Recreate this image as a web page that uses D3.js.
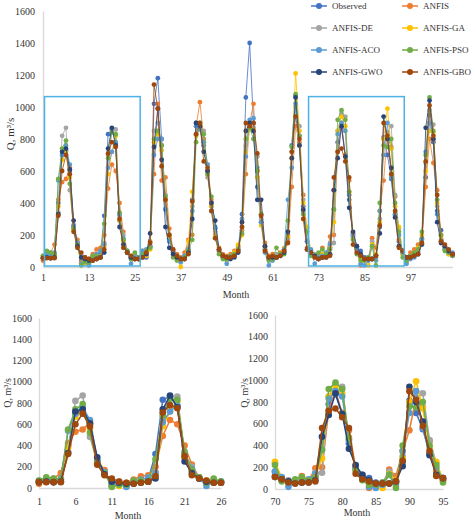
<!DOCTYPE html>
<html>
<head>
<meta charset="utf-8">
<script src="https://cdn.jsdelivr.net/npm/d3@7"></script>
<style>
  body { margin: 0; background: #fff; }
</style>
</head>
<body>
<svg width="474" height="521"></svg>
<script>
// monthly discharge, Q m3/s, months 1..108
const observed = [60,60,55,60,400,700,730,600,250,150,40,30,20,50,60,80,320,830,860,770,290,170,90,60,60,60,
  70,60,130,1020,1180,800,360,180,100,60,50,60,100,420,900,870,760,600,380,240,110,70,60,60,70,110,330,1060,1400,900,500,280,110,60,60,70,80,100,200,760,1070,820,380,
  160,100,70,60,60,70,120,480,780,870,690,420,210,130,100,60,50,50,70,250,810,700,550,330,160,100,
  50,70,80,100,180,560,950,780,350,230,120,90,70];
const anfis = [40,80,90,140,420,530,550,620,260,170,30,40,50,80,110,120,200,490,640,600,400,220,100,50,60,50,
  100,90,160,580,1020,540,560,240,110,80,60,90,170,200,880,1030,800,640,420,200,120,80,70,80,100,130,230,580,900,1020,600,330,150,70,80,60,90,110,160,500,880,780,450,
  120,90,60,70,120,80,190,200,720,900,700,540,200,120,10,50,40,180,120,350,540,840,750,440,170,90,
  60,90,110,140,150,500,800,650,480,200,110,100,80];
const anfisDE = [70,90,70,80,340,820,870,480,240,140,60,60,40,60,70,70,150,700,860,860,320,200,100,60,80,60,
  80,70,120,850,900,760,450,200,90,70,40,70,120,380,830,860,850,560,400,220,100,70,60,70,80,120,250,760,880,870,690,300,120,50,60,80,70,90,180,720,1000,880,420,
  240,80,80,60,70,80,150,150,850,960,940,450,200,100,60,50,60,160,60,300,800,840,880,450,240,80,
  50,60,80,90,170,650,980,890,380,170,130,80,70];
const anfisGA = [60,70,60,70,380,670,720,560,230,130,20,20,40,50,60,60,130,580,720,820,290,160,90,70,50,50,
  90,70,110,780,830,730,420,190,80,50,0,60,160,470,820,880,780,580,380,190,90,60,40,60,90,140,200,720,860,860,560,260,100,50,70,60,80,120,190,680,1210,850,400,
  250,100,60,60,80,70,130,280,850,940,880,470,180,110,50,40,10,140,80,280,800,990,740,380,250,80,
  30,60,70,120,200,600,850,840,400,190,110,80,80];
const anfisACO = [60,80,80,90,540,700,760,640,260,150,20,40,10,60,80,100,140,620,720,780,330,180,90,20,60,60,
  100,110,130,700,800,800,360,160,90,60,30,70,110,350,880,860,780,640,350,250,100,60,20,60,70,100,300,690,920,930,620,280,90,10,40,60,70,110,420,620,1020,760,350,
  160,110,20,60,70,90,140,360,830,900,850,450,190,110,20,10,40,130,40,350,700,900,560,320,200,90,
  20,50,60,80,170,720,900,800,330,160,110,90,90];
const anfisPSO = [70,100,90,80,550,740,790,520,240,140,10,30,30,70,70,60,270,680,840,830,340,170,100,50,90,60,
  80,100,120,800,850,760,440,200,60,40,50,60,100,170,780,900,830,580,440,180,80,50,50,70,80,110,210,800,870,800,600,330,130,40,50,120,80,80,290,750,1080,820,330,
  220,70,70,90,110,80,110,360,920,980,920,470,170,80,40,40,60,130,10,400,760,750,800,400,220,60,
  40,70,90,110,220,700,1060,850,420,200,100,90,70];
const anfisGWO = [55,60,55,60,330,720,740,610,290,130,60,50,40,40,50,60,90,740,870,760,250,140,90,60,50,50,
  60,80,210,750,990,670,250,120,80,60,50,50,90,300,900,880,720,600,400,290,110,70,60,50,60,90,280,850,900,850,420,420,130,60,60,60,70,90,220,680,1060,760,360,
  110,90,70,50,60,60,80,480,680,880,690,370,220,130,80,50,50,50,70,210,940,800,620,310,130,100,
  60,60,70,80,140,870,1040,800,280,150,130,100,80];
const anfisGBO = [55,55,55,55,320,600,700,580,220,120,90,60,50,40,50,60,110,710,780,750,300,120,90,70,50,50,
  60,90,150,1140,990,630,420,200,110,70,50,50,80,410,830,900,660,620,350,180,110,70,60,60,70,100,250,900,880,900,710,320,100,60,70,60,70,100,150,720,940,800,300,
  110,90,60,50,60,60,70,560,720,740,660,560,140,90,70,50,50,50,70,260,900,820,580,350,120,100,
  60,60,70,80,150,660,1010,820,450,160,140,110,80];

const seriesNames = ['Observed', 'ANFIS', 'ANFIS-DE', 'ANFIS-GA', 'ANFIS-ACO', 'ANFIS-PSO', 'ANFIS-GWO', 'ANFIS-GBO'];
const seriesColors = ['#4472C4', '#ED7D31', '#A5A5A5', '#FFC000', '#5B9BD5', '#70AD47', '#264478', '#9E480E'];
const seriesValues = [observed, anfis, anfisDE, anfisGA, anfisACO, anfisPSO, anfisGWO, anfisGBO];

const yTicks = [0, 200, 400, 600, 800, 1000, 1200, 1400, 1600];
const topTicks = [1, 13, 25, 37, 49, 61, 73, 85, 97];
const leftTicks = [1, 6, 11, 16, 21, 26];
const rightTicks = [70, 75, 80, 85, 90, 95];
const zoomWindows = [[1, 26], [70, 95]];

const months = d3.range(1, observed.length + 1);
const series = seriesNames.map((name, i) => ({ name, color: seriesColors[i], values: seriesValues[i] }));

const serif = '"Liberation Serif", "Times New Roman", "DejaVu Serif", serif';
const svg = d3.select('svg').style('font-family', serif);

function drawPanel(p) {
  const xScale = d3.scaleLinear().domain([p.from, p.to]).range([p.left, p.right]);
  const yScale = d3.scaleLinear().domain([0, 1600]).range([p.bottom, p.top]);
  const g = svg.append('g');

  const xAxis = d3.axisBottom(xScale).tickValues(p.ticks).tickFormat(d3.format('d'))
    .tickSize(0).tickPadding(p.xPad);
  const yAxis = d3.axisLeft(yScale).tickValues(yTicks).tickFormat(d3.format('d'))
    .tickSize(0).tickPadding(p.yPad);

  const xAxisG = g.append('g').attr('transform', `translate(0,${p.bottom})`).call(xAxis);
  const yAxisG = g.append('g').attr('transform', `translate(${p.left},0)`).call(yAxis);
  [xAxisG, yAxisG].forEach(a => {
    a.attr('font-family', serif);
    a.select('.domain').attr('stroke', '#d9d9d9').attr('stroke-width', 1.3);
    a.selectAll('text').attr('font-size', p.fontSize).attr('fill', '#333').style('font-family', serif);
  });

  g.append('text')
    .attr('x', p.monthX).attr('y', p.monthY)
    .attr('text-anchor', 'middle')
    .attr('font-size', p.fontSize)
    .attr('fill', '#333')
    .style('font-family', serif)
    .text('Month');

  g.append('text')
    .attr('transform', `translate(${p.qX},${p.qY}) rotate(-90)`)
    .attr('text-anchor', 'middle')
    .attr('font-size', p.qSize)
    .attr('fill', '#333')
    .style('font-family', serif)
    .text('Q, m³/s');

  const line = d3.line()
    .x(d => xScale(d.month))
    .y(d => yScale(d.value));

  const rows = series.map(s => ({
    ...s,
    points: months.filter(m => m >= p.from && m <= p.to).map(m => ({ month: m, value: s.values[m - 1] }))
  }));

  const sg = g.selectAll('.series').data(rows).join('g').attr('class', 'series');
  sg.append('path')
    .attr('d', d => line(d.points))
    .attr('fill', 'none')
    .attr('stroke', d => d.color)
    .attr('stroke-width', p.lineWidth)
    .attr('stroke-opacity', p.lineOpacity);
  sg.selectAll('circle').data(d => d.points.map(pt => ({ ...pt, color: d.color })))
    .join('circle')
      .attr('cx', d => xScale(d.month))
      .attr('cy', d => yScale(d.value))
      .attr('r', p.r)
      .attr('fill', d => d.color);

  return { xScale, yScale, g };
}

// main chart, all 108 months
const main = drawPanel({
  from: 1, to: 108, left: 43, right: 452.5, top: 11, bottom: 267,
  ticks: topTicks, xPad: 7, yPad: 8, fontSize: 10,
  monthX: 236, monthY: 298, qX: 14, qY: 134, qSize: 11,
  lineWidth: 1, lineOpacity: 0.8, r: 2.4
});

// windows shown in the two lower charts
main.g.selectAll('.window').data(zoomWindows).join('rect')
  .attr('class', 'window')
  .attr('x', d => main.xScale(d[0]) + 1.5)
  .attr('width', d => main.xScale(d[1]) - main.xScale(d[0]))
  .attr('y', main.yScale(1065))
  .attr('height', main.yScale(0) - main.yScale(1065) - 1)
  .attr('fill', 'none')
  .attr('stroke', '#4DB3E6')
  .attr('stroke-width', 1.5);

drawPanel({
  from: zoomWindows[0][0], to: zoomWindows[0][1], left: 39, right: 221, top: 318, bottom: 488,
  ticks: leftTicks, xPad: 10, yPad: 7, fontSize: 10,
  monthX: 128, monthY: 519, qX: 11, qY: 393, qSize: 10,
  lineWidth: 1.5, lineOpacity: 1, r: 3.3
});

drawPanel({
  from: zoomWindows[1][0], to: zoomWindows[1][1], left: 275, right: 443, top: 315, bottom: 489,
  ticks: rightTicks, xPad: 9, yPad: 7, fontSize: 10,
  monthX: 357, monthY: 516, qX: 248, qY: 393, qSize: 10,
  lineWidth: 1.5, lineOpacity: 1, r: 3.3
});

// legend, two columns
const legend = svg.append('g').selectAll('g').data(series).join('g')
  .attr('transform', (d, i) => `translate(${i % 2 ? 402 : 311},${6 + Math.floor(i / 2) * 22})`);
legend.append('line')
  .attr('x1', 0).attr('x2', 16)
  .attr('stroke', d => d.color).attr('stroke-width', 1.5);
legend.append('circle')
  .attr('cx', 8).attr('r', 3)
  .attr('fill', d => d.color);
legend.append('text')
  .attr('x', 21).attr('dy', '0.35em')
  .attr('font-size', 9)
  .attr('fill', '#333')
  .style('font-family', serif)
  .text(d => d.name);
</script>
</body>
</html>
